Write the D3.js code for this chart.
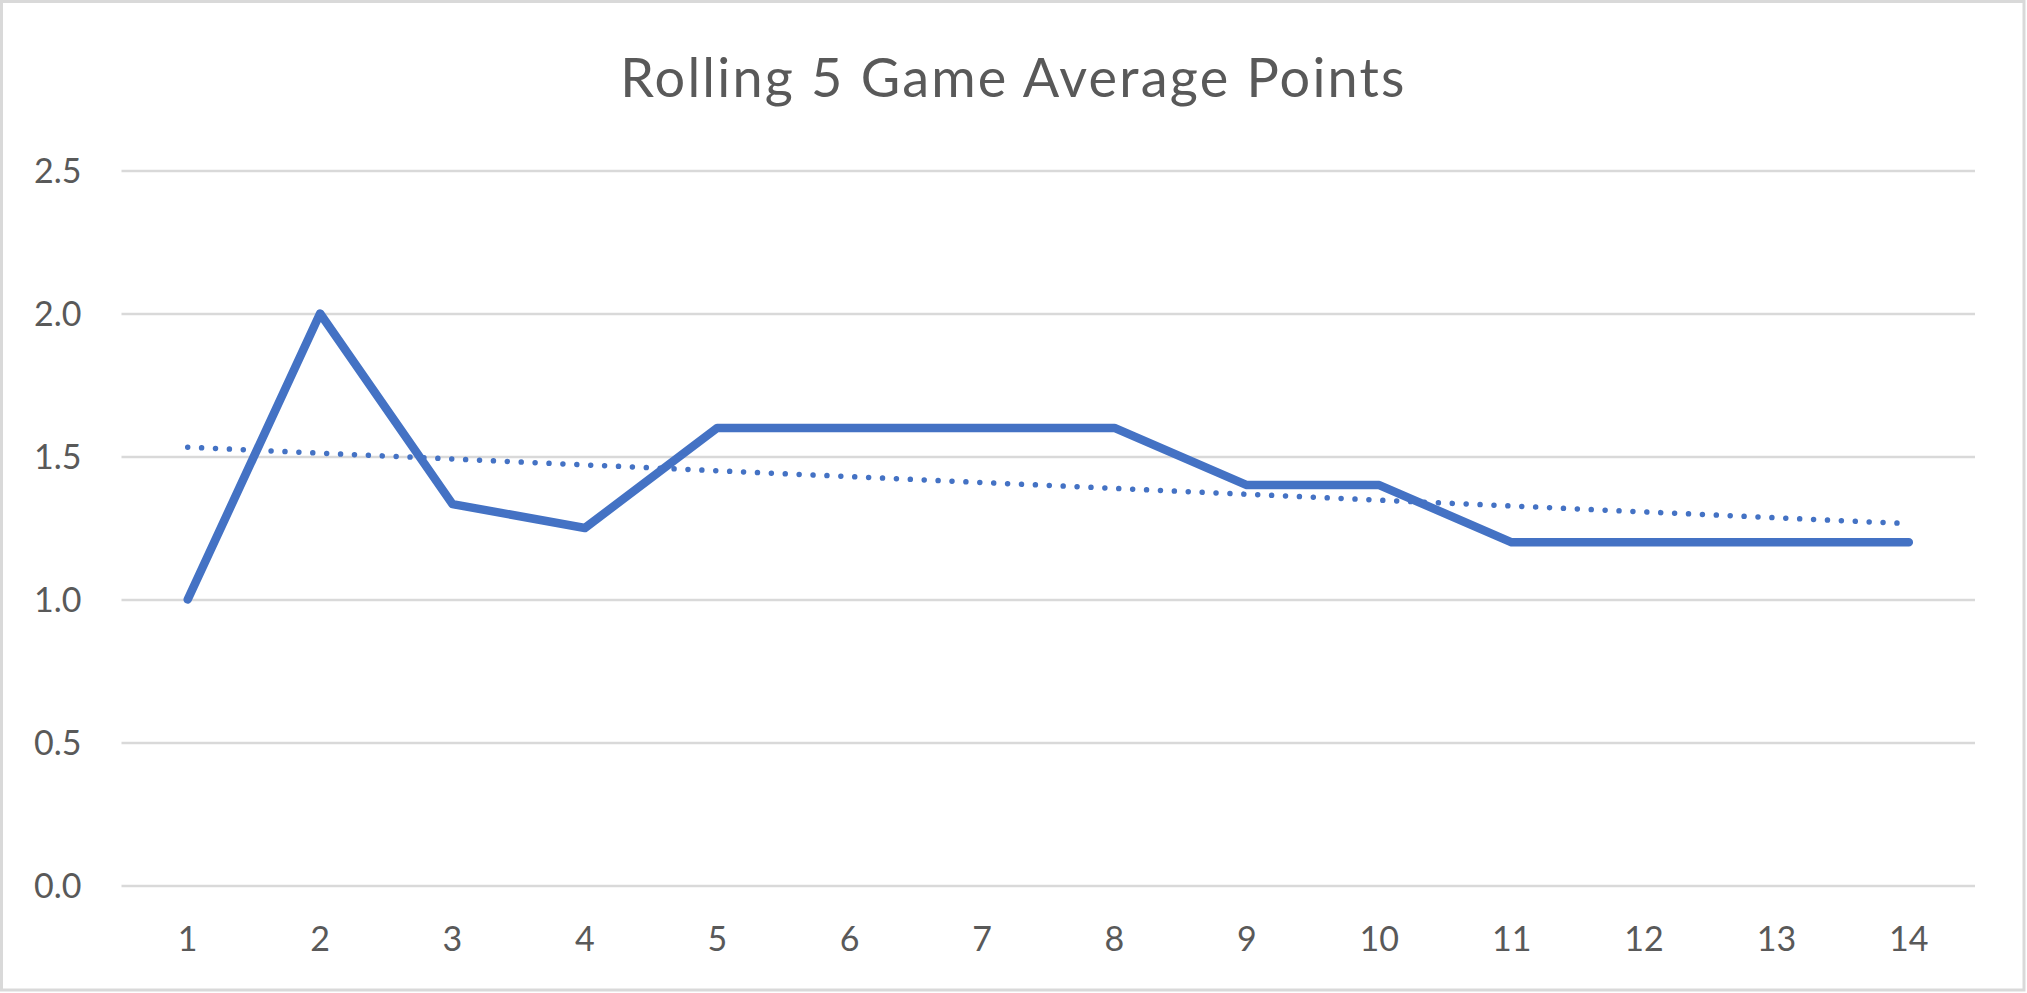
<!DOCTYPE html>
<html>
<head>
<meta charset="utf-8">
<script src="https://cdn.jsdelivr.net/npm/d3@7"></script>
<style>
  html, body { margin: 0; padding: 0; background: #fff; }
  svg { display: block; }
</style>
</head>
<body>
<svg id="chart" width="2027" height="993"></svg>
<script>
// ---- data ----
const title = "Rolling 5 Game Average Points";
const games = ["1","2","3","4","5","6","7","8","9","10","11","12","13","14"];
const rollingAvg = [1, 2, 1.3333, 1.25, 1.6, 1.6, 1.6, 1.6, 1.4, 1.4, 1.2, 1.2, 1.2, 1.2];
const yTicks = [0, 0.5, 1.0, 1.5, 2.0, 2.5];

// ---- layout ----
const W = 2027, H = 993;
const plot = { left: 121.5, right: 1975, top: 170.5, bottom: 885.5 };
const textColor = "#595959";
const gridColor = "#d9d9d9";
const lineColor = "#4472C4";
const font = "Lato, 'Open Sans', sans-serif";

const svg = d3.select("#chart");

// chart border
svg.append("rect")
  .attr("x", 1.5).attr("y", 1.5)
  .attr("width", W - 4.5).attr("height", H - 4.5)
  .attr("fill", "#fff")
  .attr("stroke", gridColor)
  .attr("stroke-width", 3);

const x = d3.scaleBand().domain(games).range([plot.left, plot.right]).padding(0);
const cx = d => x(d) + x.bandwidth() / 2;
const y = d3.scaleLinear().domain([0, 2.5]).range([plot.bottom, plot.top]);

// title
svg.append("text")
  .attr("x", W / 2).attr("y", 97)
  .attr("text-anchor", "middle")
  .attr("font-family", font)
  .attr("font-size", 54)
  .attr("letter-spacing", 2.2)
  .attr("fill", textColor)
  .text(title);

// y axis (gridlines + labels)
const yAxis = d3.axisLeft(y)
  .tickValues(yTicks)
  .tickSize(-(plot.right - plot.left))
  .tickPadding(40)
  .tickFormat(d3.format(".1f"));
const gy = svg.append("g")
  .attr("transform", `translate(${plot.left},0)`)
  .call(yAxis);
gy.select(".domain").remove();
gy.selectAll(".tick line").attr("stroke", gridColor).attr("stroke-width", 2.5);
gy.selectAll(".tick text")
  .attr("font-family", font)
  .attr("font-size", 34)
  .attr("fill", textColor)
  .attr("dy", "0.36em");

// x axis labels
const xAxis = d3.axisBottom(x).tickSize(0).tickPadding(0);
const gx = svg.append("g")
  .attr("transform", `translate(0,${plot.bottom})`)
  .call(xAxis);
gx.select(".domain").remove();
gx.selectAll(".tick text")
  .attr("font-family", font)
  .attr("font-size", 34)
  .attr("fill", textColor)
  .attr("y", 65.5)
  .attr("dy", 0);

// linear trendline (least squares fit of the series)
const xs = games.map((g, i) => i + 1);
const n = xs.length;
const mx = d3.mean(xs), my = d3.mean(rollingAvg);
const slope = d3.sum(xs, (v, i) => (v - mx) * (rollingAvg[i] - my)) / d3.sum(xs, v => (v - mx) ** 2);
const intercept = my - slope * mx;
const trend = [games[0], games[n - 1]].map((g, k) => ({ g, v: intercept + slope * (k === 0 ? xs[0] : xs[n - 1]) }));

svg.append("path")
  .datum(trend)
  .attr("fill", "none")
  .attr("stroke", lineColor)
  .attr("stroke-width", 5.5)
  .attr("stroke-linecap", "round")
  .attr("stroke-dasharray", "0.01 13.9")
  .attr("d", d3.line().x(d => cx(d.g)).y(d => y(d.v)));

// main line
const data = games.map((g, i) => ({ g, v: rollingAvg[i] }));
svg.append("path")
  .datum(data)
  .attr("fill", "none")
  .attr("stroke", lineColor)
  .attr("stroke-width", 8.5)
  .attr("stroke-linejoin", "round")
  .attr("stroke-linecap", "round")
  .attr("d", d3.line().x(d => cx(d.g)).y(d => y(d.v)));
</script>
</body>
</html>
